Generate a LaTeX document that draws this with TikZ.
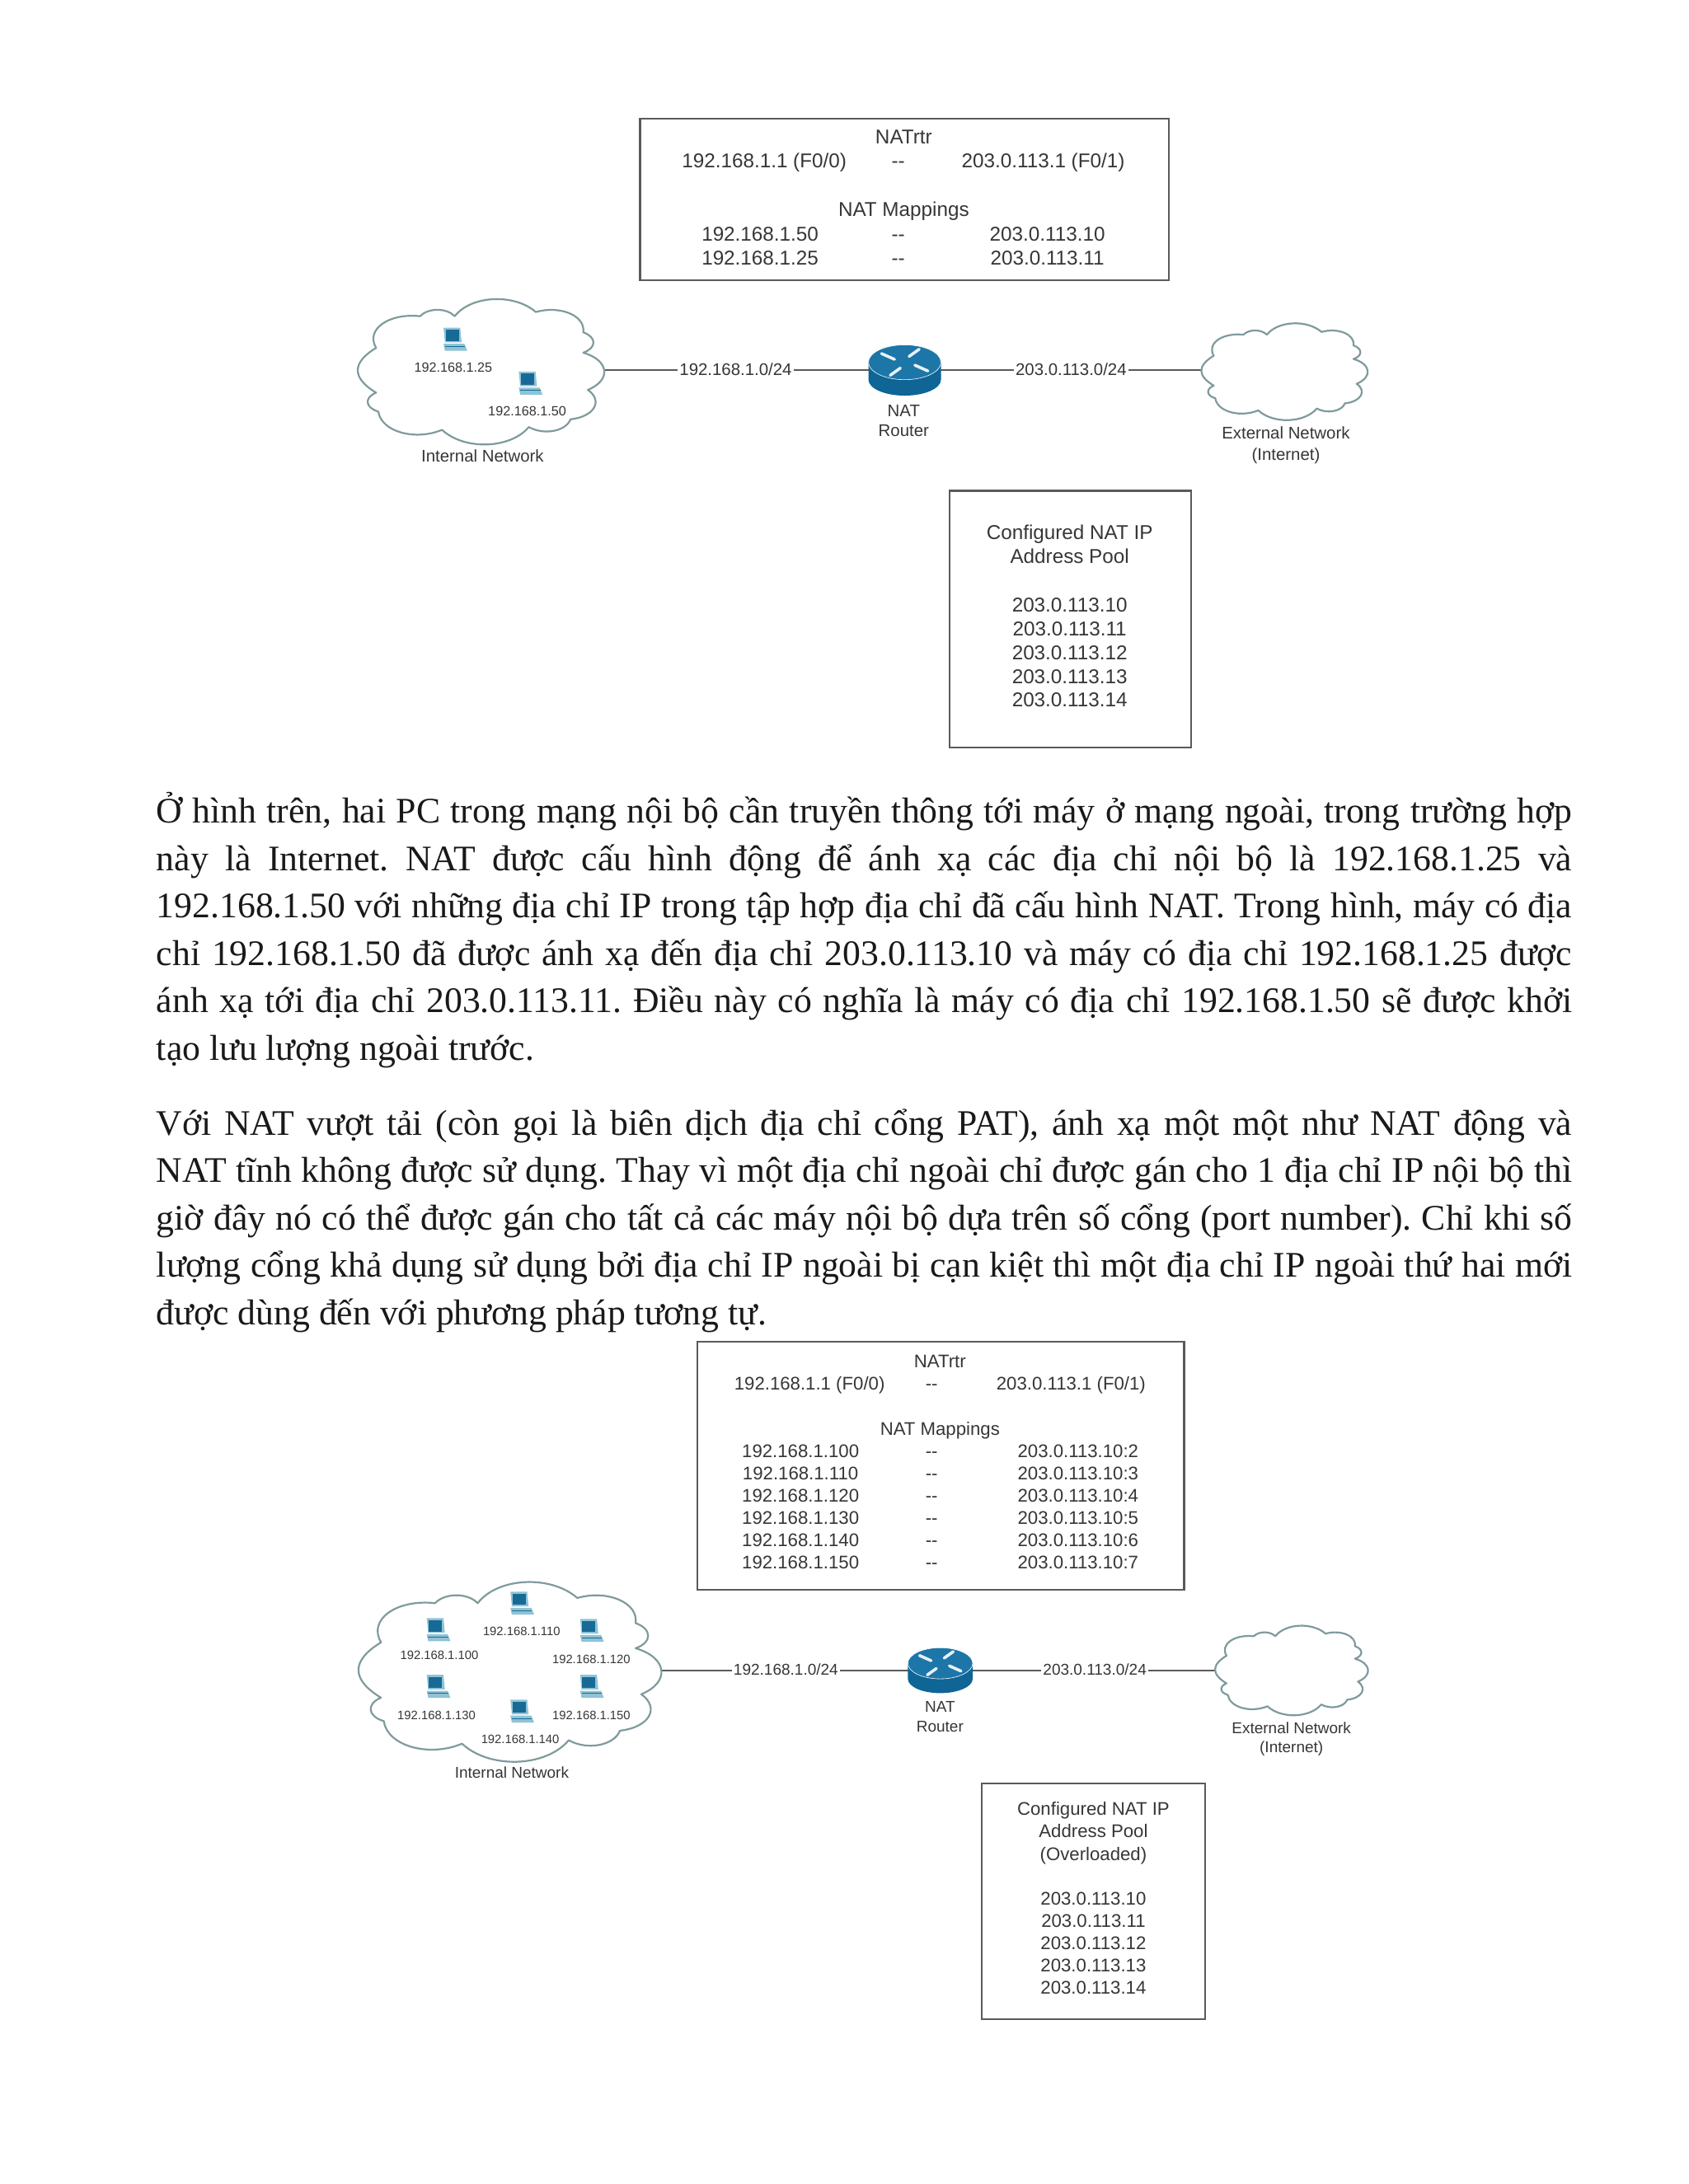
\documentclass[tikz,border=0pt]{standalone}
\usepackage{fontspec}
\setmainfont{Liberation Serif}
\newfontfamily\dsans{Liberation Sans}
\usetikzlibrary{backgrounds}
\definecolor{txt}{HTML}{363636}
\definecolor{boxc}{HTML}{5A5A5A}
\definecolor{cloudc}{HTML}{7F9A9C}
\definecolor{rtop}{HTML}{1C76A8}
\definecolor{rbody}{HTML}{0E6596}
\definecolor{pcd}{HTML}{176A96}
\definecolor{pcl}{HTML}{8FC3D6}
\newcommand{\cloudat}[4]{%
  \draw[cloudline,shift={(#1,#2)},xscale=#3,yscale=#4]
    (-.92,-.31) to[puff] (-.54,-.76) to[puff] (-.24,-.76) to[puff] (.46,-.82)
    to[puff] (.87,-.53) to[puff] (.87,-.24) to[puff] (.91,.29) to[puff] (.76,.71)
    to[puff] (.40,.82) to[puff] (-.35,.86) to[puff] (-.9,.6) to[puff] (-.92,.33)
    to[puffsmall] cycle;}
\tikzset{
  x=0.846pt,y=-0.846pt,
  infobox/.style={draw=boxc,line width=1.1pt},
  lab/.style={text=txt,inner sep=0pt,text height=.72em,text depth=.2em},
  tl/.style={lab,yshift=-1.7pt,font=\dsans\fontsize{12.13pt}{12pt}\selectfont},
  tm/.style={lab,yshift=-0.8pt,font=\dsans\fontsize{11.1pt}{11pt}\selectfont},
  ts/.style={lab,font=\dsans\fontsize{8.1pt}{8pt}\selectfont},
  txs/.style={lab,font=\dsans\fontsize{7.4pt}{7pt}\selectfont},
  tn/.style={lab,yshift=-0.8pt,font=\dsans\fontsize{10.2pt}{10pt}\selectfont},
  tk/.style={lab,font=\dsans\fontsize{9.5pt}{9pt}\selectfont},
  cloudline/.style={draw=cloudc,fill=white,line width=1.1pt,line join=round},
  puff/.style={bend left=60,looseness=1.2},
  puffsmall/.style={bend left=45,looseness=1.2},
  chub/.style={inner sep=0pt},
  link/.style={draw=boxc,line width=1.1pt},
  linklab/.style={fill=white,inner xsep=1pt,inner ysep=2pt},
  para/.style={anchor=north west,inner sep=0pt,text width=858.7pt,align=justify,text=black!90,
     font=\fontsize{21.84pt}{28.77pt}\selectfont},
  rhub/.style={minimum width=40pt,minimum height=28pt,inner sep=0pt},
  pcicon/.pic={
    \fill[pcl] (-7,-8.5) -- (5,-8.5) -- (6,2) -- (-6,2) -- cycle;
    \fill[pcd] (-5.5,-7) rectangle (4,1);
    \fill[pcl] (-7,3) -- (8,3) -- (10,8) -- (-6,8) -- cycle;
    \draw[pcd,line width=.5pt] (-6,5) -- (8.5,5);
  },
  routericon/.pic={
    \fill[rbody] (-25,-5) -- (-25,7) arc[start angle=180,end angle=0,x radius=25,y radius=11] -- (25,-5) -- cycle;
    \fill[rtop,draw=white,line width=.3pt] (0,-5) ellipse [x radius=25,y radius=12];
    \draw[white!90!rtop,line width=1.8pt,line cap=round] (-16,-11) -- (-7,-7) (16,1) -- (7,-3) (10,-14) -- (3,-9) (-10,4) -- (-3,-1);
  }
}
\begin{document}
\begin{tikzpicture}
\useasboundingbox (0,0) rectangle (1210.5,1566.3);
% ---------- first diagram ----------
\draw[infobox] (459,85) rectangle (838,201);
\node[tl] (a1) at (648,98) {NATrtr};
\node[tl] (a2) at (548,115) {192.168.1.1 (F0/0)};
\node[tl] (a3) at (644,115) {--};
\node[tl] (a4) at (748,115) {203.0.113.1 (F0/1)};
\node[tl] (a5) at (648,150) {NAT Mappings};
\node[tl] (a6) at (545,168) {192.168.1.50};
\node[tl] (a7) at (644,168) {--};
\node[tl] (a8) at (751,168) {203.0.113.10};
\node[tl] (a9) at (545,185) {192.168.1.25};
\node[tl] (a10) at (644,185) {--};
\node[tl] (a11) at (751,185) {203.0.113.11};

\cloudat{346}{265}{83}{50.3}
\cloudat{921.8}{265.5}{56}{33.5}
\node[chub,minimum width=147pt,minimum height=85pt] (c1) at (346,265) {};
\node[chub,minimum width=98.6pt,minimum height=56.7pt] (e1) at (921.8,265.5) {};
\node[rhub] (r1) at (648.7,265.5) {};
\begin{pgfonlayer}{background}
\draw[link] (c1.center |- r1.center) -- (r1.center);
\draw[link] (r1.center) -- (e1.center |- r1.center);
\end{pgfonlayer}
\pic[scale=1.04] at (648.7,265) {routericon};
\node[tn,linklab] (l1) at (527.5,265) {192.168.1.0/24};
\node[tn,linklab] (l2) at (768,265) {203.0.113.0/24};
\pic at (325,243.5) {pcicon};
\pic at (379,275) {pcicon};
\node[ts] (p1) at (325,264) {192.168.1.25};
\node[ts] (p2) at (378,295) {192.168.1.50};
\node[tn] (n1) at (346,327) {Internal Network};
\node[tn] (n2) at (648,295) {NAT};
\node[tn] (n3) at (648,309) {Router};
\node[tn] (n4) at (922,311) {External Network};
\node[tn] (n5) at (922,326) {(Internet)};

\draw[infobox] (681,352) rectangle (854,536);
\node[tl] (d1) at (767,382) {Configured NAT IP};
\node[tl] (d2) at (767,399) {Address Pool};
\node[tl] (d3) at (767,434) {203.0.113.10};
\node[tl] (d4) at (767,451) {203.0.113.11};
\node[tl] (d5) at (767,468) {203.0.113.12};
\node[tl] (d6) at (767,485) {203.0.113.13};
\node[tl] (d7) at (767,502) {203.0.113.14};

% ---------- text ----------
\node[para] (t1) at (112,568) {\frenchspacing Ở hình trên, hai PC trong mạng nội bộ cần truyền thông tới máy ở mạng ngoài, trong trường hợp\linebreak
này là Internet. NAT được cấu hình động để ánh xạ các địa chỉ nội bộ là 192.168.1.25 và\linebreak
192.168.1.50 với những địa chỉ IP trong tập hợp địa chỉ đã cấu hình NAT. Trong hình, máy có địa\linebreak
chỉ 192.168.1.50 đã được ánh xạ đến địa chỉ 203.0.113.10 và máy có địa chỉ 192.168.1.25 được\linebreak
ánh xạ tới địa chỉ 203.0.113.11. Điều này có nghĩa là máy có địa chỉ 192.168.1.50 sẽ được khởi\linebreak
tạo lưu lượng ngoài trước.};
\node[para] (t2) at (112,795) {\frenchspacing Với NAT vượt tải (còn gọi là biên dịch địa chỉ cổng PAT), ánh xạ một một như NAT động và\linebreak
NAT tĩnh không được sử dụng. Thay vì một địa chỉ ngoài chỉ được gán cho 1 địa chỉ IP nội bộ thì\linebreak
giờ đây nó có thể được gán cho tất cả các máy nội bộ dựa trên số cổng (port number). Chỉ khi số\linebreak
lượng cổng khả dụng sử dụng bởi địa chỉ IP ngoài bị cạn kiệt thì một địa chỉ IP ngoài thứ hai mới\linebreak
được dùng đến với phương pháp tương tự.};

% ---------- second diagram ----------
\draw[infobox] (500,962) rectangle (849,1140);
\node[tm] (f1) at (674,977) {NATrtr};
\node[tm] (f2) at (580.5,993) {192.168.1.1 (F0/0)};
\node[tm] (f3) at (668,993) {--};
\node[tm] (f4) at (768,993) {203.0.113.1 (F0/1)};
\node[tm] (f5) at (674,1025) {NAT Mappings};
\foreach \yy/\aa/\bb in {1041/100/2,1057/110/3,1073/120/4,1089/130/5,1105/140/6,1121/150/7}{
  \node[tm] (g\aa) at (574,\yy) {192.168.1.\aa};
  \node[tm] (h\aa) at (668,\yy) {--};
  \node[tm] (i\aa) at (773,\yy) {203.0.113.10:\bb};
}
\cloudat{367}{1197}{102}{62.2}
\cloudat{926.8}{1197}{51.5}{31}
\node[chub,minimum width=182pt,minimum height=105pt] (c2) at (367,1197) {};
\node[chub,minimum width=91pt,minimum height=52pt] (e2) at (926.8,1197) {};
\node[rhub] (r2) at (674.2,1198) {};
\begin{pgfonlayer}{background}
\draw[link] (c2.center |- r2.center) -- (r2.center);
\draw[link] (r2.center) -- (e2.center |- r2.center);
\end{pgfonlayer}
\pic[scale=.93] at (674.2,1197.5) {routericon};
\node[tk,linklab] (l3) at (563.5,1198) {192.168.1.0/24};
\node[tk,linklab] (l4) at (785,1198) {203.0.113.0/24};
\foreach \px/\py in {313/1169,373/1150,423/1169.5,313/1209.6,373/1227.4,423/1209.6}{
  \pic at (\px,\py) {pcicon};
}
\node[txs] (q1) at (315,1187) {192.168.1.100};
\node[txs] (q2) at (374,1170) {192.168.1.110};
\node[txs] (q3) at (424,1190) {192.168.1.120};
\node[txs] (q4) at (313,1230) {192.168.1.130};
\node[txs] (q5) at (373,1247) {192.168.1.140};
\node[txs] (q6) at (424,1230) {192.168.1.150};
\node[tk] (m1) at (367,1272) {Internal Network};
\node[tk] (m2) at (674,1225) {NAT};
\node[tk] (m3) at (674,1239) {Router};
\node[tk] (m4) at (926,1240) {External Network};
\node[tk] (m5) at (926,1254) {(Internet)};

\draw[infobox] (704,1279) rectangle (864,1448);
\node[tm] (u1) at (784,1298) {Configured NAT IP};
\node[tm] (u2) at (784,1314) {Address Pool};
\node[tm] (u3) at (784,1330) {(Overloaded)};
\node[tm] (u4) at (784,1362) {203.0.113.10};
\node[tm] (u5) at (784,1378) {203.0.113.11};
\node[tm] (u6) at (784,1394) {203.0.113.12};
\node[tm] (u7) at (784,1410) {203.0.113.13};
\node[tm] (u8) at (784,1426) {203.0.113.14};
\end{tikzpicture}
\end{document}
